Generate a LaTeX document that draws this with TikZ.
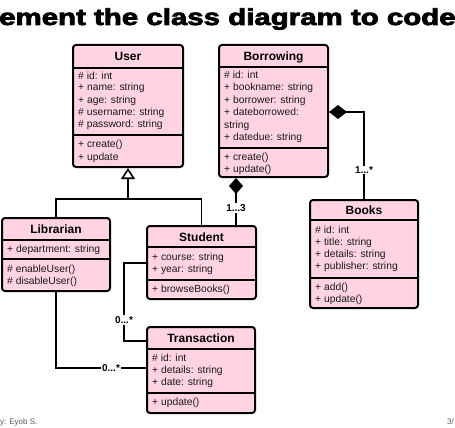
\documentclass[tikz,border=0pt]{standalone}
\usepackage{fontspec}
\setmainfont{Liberation Sans}
\newfontfamily\titlefont{Liberation Sans}[UprightFont={* Bold},FakeBold=3]
\usetikzlibrary{arrows.meta}
\definecolor{classpink}{RGB}{255,212,224}
\definecolor{textgray}{RGB}{25,25,25}
\begin{document}
\begin{tikzpicture}[x=1pt,y=-1pt,
  classbox/.style={draw=black, fill=classpink, line width=2pt, rounded corners=3pt, inner sep=0pt},
  sepline/.style={line width=1.8pt},
  ctitle/.style={font=\fontsize{12}{14}\selectfont\bfseries, inner sep=0pt, anchor=base},
  attr/.style={font=\fontsize{10.3}{12}\selectfont, text=textgray, inner sep=0pt, anchor=base west},
  conn/.style={line width=1.6pt},
  mult/.style={font=\fontsize{10}{12}\selectfont\bfseries, fill=white, inner sep=1pt},
  foot/.style={font=\fontsize{8}{9}\selectfont, text=black!65, inner sep=0pt, anchor=base west},
]
\useasboundingbox (0,0) rectangle (455,428);
\clip (0,0) rectangle (455,428);

% page title
\node[anchor=base west, inner sep=0pt] (title) at (-1,25)
  {\titlefont\fontsize{23}{25}\selectfont\scalebox{1.28}[1]{ement the class diagram to code}};

% ---------- User ----------
\node[classbox, minimum width=110pt, minimum height=122pt] (user) at (128,106) {};
\draw[sepline] (user.west |- 0,68) -- (user.east |- 0,68);
\draw[sepline] (user.west |- 0,135) -- (user.east |- 0,135);
\node[ctitle] (user-t) at (128,60) {User};
\foreach \t [count=\i] in {\# id: int, + name: string, + age: string, \# username: string, \# password: string}
  \node[attr] (user-a\i) at (78,{79+12*(\i-1)}) {\t};
\foreach \t [count=\i] in {+ create(), + update}
  \node[attr] (user-m\i) at (78,{147.5+12.5*(\i-1)}) {\t};

% ---------- Borrowing ----------
\node[classbox, minimum width=109pt, minimum height=132pt] (borr) at (273.5,111) {};
\draw[sepline] (borr.west |- 0,67) -- (borr.east |- 0,67);
\draw[sepline] (borr.west |- 0,148) -- (borr.east |- 0,148);
\node[ctitle] (borr-t) at (273.5,60) {Borrowing};
\foreach \t [count=\i] in {\# id: int, + bookname: string, + borrower: string, + dateborrowed:, string, + datedue: string}
  \node[attr] (borr-a\i) at (224,{78.5+12.4*(\i-1)}) {\t};
\foreach \t [count=\i] in {+ create(), + update()}
  \node[attr] (borr-m\i) at (224,{160.5+12.3*(\i-1)}) {\t};

% ---------- Librarian ----------
\node[classbox, minimum width=108pt, minimum height=73pt] (lib) at (56,254.5) {};
\draw[sepline] (lib.west |- 0,240) -- (lib.east |- 0,240);
\draw[sepline] (lib.west |- 0,259) -- (lib.east |- 0,259);
\node[ctitle] (lib-t) at (56,233.5) {Librarian};
\node[attr] (lib-a1) at (7,252) {+ department: string};
\foreach \t [count=\i] in {\# enableUser(), \# disableUser()}
  \node[attr] (lib-m\i) at (7,{272+12.3*(\i-1)}) {\t};

% ---------- Student ----------
\node[classbox, minimum width=109pt, minimum height=73pt] (stu) at (201.5,262.5) {};
\draw[sepline] (stu.west |- 0,247) -- (stu.east |- 0,247);
\draw[sepline] (stu.west |- 0,280) -- (stu.east |- 0,280);
\node[ctitle] (stu-t) at (201.5,241) {Student};
\foreach \t [count=\i] in {+ course: string, + year: string}
  \node[attr] (stu-a\i) at (152,{260+12.2*(\i-1)}) {\t};
\node[attr] (stu-m1) at (152,292.5) {+ browseBooks()};

% ---------- Books ----------
\node[classbox, minimum width=108pt, minimum height=108pt] (books) at (364,254) {};
\draw[sepline] (books.west |- 0,220) -- (books.east |- 0,220);
\draw[sepline] (books.west |- 0,278) -- (books.east |- 0,278);
\node[ctitle] (books-t) at (364,214.5) {Books};
\foreach \t [count=\i] in {\# id: int, + title: string, + details: string, + publisher: string}
  \node[attr] (books-a\i) at (315,{233+12.1*(\i-1)}) {\t};
\foreach \t [count=\i] in {+ add(), + update()}
  \node[attr] (books-m\i) at (315,{290.5+12.3*(\i-1)}) {\t};

% ---------- Transaction ----------
\node[classbox, minimum width=108pt, minimum height=86pt] (trans) at (201,370) {};
\draw[sepline] (trans.west |- 0,349) -- (trans.east |- 0,349);
\draw[sepline] (trans.west |- 0,393) -- (trans.east |- 0,393);
\node[ctitle] (trans-t) at (201,342.5) {Transaction};
\foreach \t [count=\i] in {\# id: int, + details: string, + date: string}
  \node[attr] (trans-a\i) at (152,{361+12.2*(\i-1)}) {\t};
\node[attr] (trans-m1) at (152,405.5) {+ update()};

% ---------- connectors ----------
\coordinate (gj) at (128,199);
\draw[conn] (lib.north) |- (gj) -| (stu.north);
\draw[conn, -{Triangle[fill=white, length=11pt, width=14pt]}] (gj) -- (user.south);

\coordinate (c1) at (236,0);
\draw[conn, {Diamond[length=16pt, width=14pt]}-] (borr.south -| c1) -- (stu.north -| c1);
\node[mult] (m13) at (236,208) {1...3};

\coordinate (c2) at (0,112);
\draw[conn, {Diamond[length=18pt, width=14pt]}-] (borr.east |- c2) -| (books.north);
\node[mult] (m1s) at (364,170) {1...*};

\coordinate (c3) at (124,263);
\coordinate (c4) at (124,341);
\draw[conn] (stu.west |- c3) -- (c3) -- (c4) -- (trans.west |- c4);
\node[mult] (m0s1) at (124,320) {0...*};

\coordinate (c5) at (0,368);
\draw[conn] (lib.south) |- (trans.west |- c5);
\node[mult] (m0s2) at (111,368) {0...*};

% footer
\node[foot] (footl) at (0,424) {y: Eyob S.};
\node[foot] (footr) at (447,424) {3/};
\end{tikzpicture}
\end{document}
